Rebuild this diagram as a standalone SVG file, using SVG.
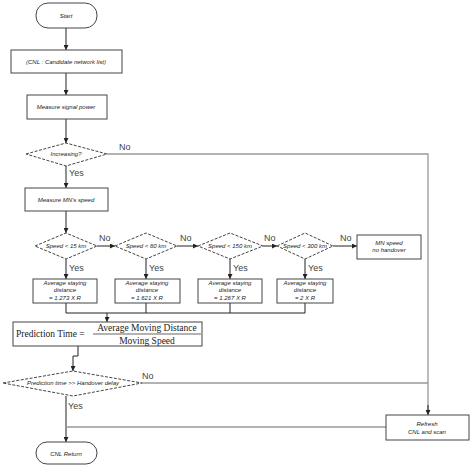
<svg xmlns="http://www.w3.org/2000/svg" width="474" height="467" viewBox="0 0 474 467">
<style>
.n{fill:#fff;stroke:#444;stroke-width:1}
.t{font-family:"Liberation Sans",Arial,sans-serif;font-size:6px;font-style:italic;fill:#222;text-anchor:middle}
.l{font-family:"Liberation Sans",Arial,sans-serif;font-size:9px;fill:#444}
.c{fill:none;stroke:#222;stroke-width:1}
.g{fill:none;stroke:#999;stroke-width:1.3}
.s{font-family:"Liberation Serif","Times New Roman",serif;font-size:9.5px;fill:#222}
</style>
<defs>
<marker id="a" markerWidth="5" markerHeight="5" refX="5" refY="2.5" orient="auto" markerUnits="userSpaceOnUse"><path d="M0,0 L5,2.5 L0,5 z" fill="#222"/></marker>
</defs>
<rect width="474" height="467" fill="#fff"/>
<g id="connectors">
<path class="c" d="M66,28 V50" marker-end="url(#a)"/>
<path class="c" d="M66,73 V95" marker-end="url(#a)"/>
<path class="c" d="M66,119 V143" marker-end="url(#a)"/>
<path class="c" d="M66,166 V188" marker-end="url(#a)"/>
<path class="c" d="M66,211 V233" marker-end="url(#a)"/>
<path class="g" d="M107,154 H428 V410"/>
<path class="c" d="M428,405 V415" marker-end="url(#a)"/>
<path class="c" d="M97,246 H115" marker-end="url(#a)"/>
<path class="c" d="M177,246 H198" marker-end="url(#a)"/>
<path class="c" d="M263,246 H277" marker-end="url(#a)"/>
<path class="c" d="M333,246 H357" marker-end="url(#a)"/>
<path class="c" d="M66,259 V279" marker-end="url(#a)"/>
<path class="c" d="M146,259 V279" marker-end="url(#a)"/>
<path class="c" d="M230,259 V279" marker-end="url(#a)"/>
<path class="c" d="M305,259 V279" marker-end="url(#a)"/>
<path class="c" d="M66,303 V313 H305 V303 M146,303 V313 M230,303 V313"/>
<path class="c" d="M107,313 V322" marker-end="url(#a)"/>
<path class="c" d="M78,346 V356 H73 V371" marker-end="url(#a)"/>
<path class="g" d="M142,383 H428"/>
<path class="c" d="M66,396 V442" marker-end="url(#a)"/>
<path class="g" d="M386,427 H66"/>
</g>
<g class="l">
<text x="119" y="150">No</text>
<text x="69" y="176">Yes</text>
<text x="99" y="241">No</text>
<text x="180" y="241">No</text>
<text x="264" y="241">No</text>
<text x="340" y="241">No</text>
<text x="69" y="271">Yes</text>
<text x="149" y="271">Yes</text>
<text x="233" y="271">Yes</text>
<text x="308" y="271">Yes</text>
<text x="142" y="379">No</text>
<text x="68" y="409">Yes</text>
</g>
<g id="start"><rect class="n" x="36" y="3" width="61" height="25" rx="12"/><text class="t" x="66" y="18">Start</text></g>
<g id="cnl"><rect class="n" x="11" y="50" width="111" height="23"/><text class="t" x="66" y="64">(CNL : Candidate network list)</text></g>
<g id="measure-signal"><rect class="n" x="27" y="95" width="80" height="24"/><text class="t" x="66" y="109">Measure signal power</text></g>
<g id="increasing"><path class="n" d="M26,154 L66,143 L107,154 L66,166 Z" stroke-dasharray="3,1.5"/><text class="t" x="66" y="156">Increasing?</text></g>
<g id="measure-speed"><rect class="n" x="25" y="188" width="83" height="23"/><text class="t" x="66" y="202">Measure MN's speed</text></g>
<g id="d15"><path class="n" d="M35,246 L66,233 L97,246 L66,259 Z" stroke-dasharray="3,1.5"/><text class="t" x="66" y="248">Speed &lt; 15 km</text></g>
<g id="d60"><path class="n" d="M115,246 L146,233 L177,246 L146,259 Z" stroke-dasharray="3,1.5"/><text class="t" x="146" y="248">Speed &lt; 60 km</text></g>
<g id="d150"><path class="n" d="M198,246 L230,233 L263,246 L230,259 Z" stroke-dasharray="3,1.5"/><text class="t" x="230" y="248">Speed &lt; 150 km</text></g>
<g id="d300"><path class="n" d="M277,246 L305,233 L333,246 L305,259 Z" stroke-dasharray="3,1.5"/><text class="t" x="305" y="248">Speed &lt; 300 km</text></g>
<g id="nohandover"><rect class="n" x="357" y="235" width="64" height="24"/><text class="t" x="389" y="245">MN speed</text><text class="t" x="389" y="252">no handover</text></g>
<g id="b1"><rect class="n" x="33" y="279" width="64" height="24"/><text class="t" x="65" y="285">Average staying</text><text class="t" x="65" y="292">distance</text><text class="t" x="65" y="300">= 1.273 X R</text></g>
<g id="b2"><rect class="n" x="115" y="279" width="65" height="24"/><text class="t" x="147" y="285">Average staying</text><text class="t" x="147" y="292">distance</text><text class="t" x="147" y="300">= 1.621 X R</text></g>
<g id="b3"><rect class="n" x="198" y="279" width="64" height="24"/><text class="t" x="230" y="285">Average staying</text><text class="t" x="230" y="292">distance</text><text class="t" x="230" y="300">= 1.267 X R</text></g>
<g id="b4"><rect class="n" x="277" y="279" width="56" height="24"/><text class="t" x="305" y="285">Average staying</text><text class="t" x="305" y="292">distance</text><text class="t" x="305" y="300">= 2 X R</text></g>
<g id="formula"><rect class="n" x="13" y="322" width="189" height="24"/><text class="s" x="16" y="337">Prediction Time =</text><text class="s" x="147" y="331" text-anchor="middle" font-size="10">Average Moving Distance</text><line x1="93" y1="334" x2="201" y2="334" stroke="#222" stroke-width="0.7"/><text class="s" x="147" y="344" text-anchor="middle">Moving Speed</text></g>
<g id="delay"><path class="n" d="M3,383 L73,371 L142,383 L73,396 Z" stroke-dasharray="3,1.5"/><text class="t" x="73" y="385">Prediction time &gt;&gt; Handover delay</text></g>
<g id="refresh"><rect class="n" x="386" y="415" width="83" height="25"/><text class="t" x="427" y="426">Refresh</text><text class="t" x="427" y="434">CNL and scan</text></g>
<g id="return"><rect class="n" x="36" y="442" width="61" height="22" rx="11"/><text class="t" x="66" y="456">CNL Return</text></g>
</svg>
